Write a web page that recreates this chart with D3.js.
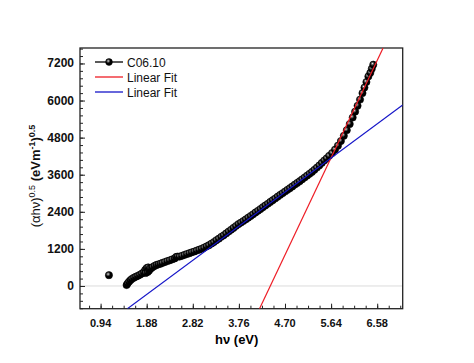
<!DOCTYPE html>
<html>
<head>
<meta charset="utf-8">
<script src="https://cdn.jsdelivr.net/npm/d3@7"></script>
<style>
  body { margin: 0; background: #fff; }
  svg text { font-family: "Liberation Sans", Arial, sans-serif; }
  .tickLabel { font-weight: bold; fill: #111; }
  .legendText { font-size: 12px; fill: #111; }
</style>
</head>
<body>
<div id="chart"></div>
<script>
"use strict";

// measured series (hv in eV, (alpha hv)^0.5)
let hv = [1.11, 1.47, 1.49, 1.52, 1.55, 1.58, 1.62, 1.66, 1.70, 1.74, 1.78, 1.82, 1.85, 1.86, 1.88,
  1.90, 1.91, 1.93, 1.94, 1.97, 2.00, 2.04, 2.08, 2.12, 2.16, 2.20, 2.25, 2.30, 2.35, 2.40,
  2.45, 2.48, 2.51, 2.55, 2.60, 2.65, 2.70, 2.75, 2.80, 2.85, 2.90, 2.95, 3.00, 3.05, 3.10,
  3.15, 3.20, 3.25, 3.30, 3.35, 3.40, 3.45, 3.50, 3.55, 3.60, 3.65, 3.70, 3.75, 3.80, 3.85,
  3.90, 3.95, 4.00, 4.05, 4.10, 4.15, 4.20, 4.25, 4.30, 4.35, 4.40, 4.45, 4.50, 4.55, 4.60,
  4.65, 4.70, 4.75, 4.80, 4.85, 4.90, 4.95, 5.00, 5.05, 5.10, 5.15, 5.20, 5.25, 5.30, 5.35,
  5.40, 5.45, 5.50, 5.55, 5.60, 5.66, 5.72, 5.78, 5.84, 5.90, 5.96, 6.02, 6.08, 6.13, 6.18,
  6.23, 6.28, 6.32, 6.36, 6.40, 6.44, 6.47, 6.50];
let ahv = [350, 30, 80, 140, 190, 230, 270, 300, 330, 360, 400, 450, 520, 420, 580,
  450, 600, 500, 560, 570, 610, 650, 680, 700, 720, 745, 775, 805, 830, 860,
  890, 940, 950, 950, 975, 1005, 1035, 1060, 1090, 1115, 1145, 1175, 1205, 1240, 1280,
  1320, 1370, 1420, 1480, 1530, 1590, 1640, 1700, 1760, 1820, 1880, 1940, 2000, 2050, 2100,
  2155, 2210, 2265, 2320, 2380, 2435, 2490, 2550, 2605, 2660, 2720, 2775, 2830, 2890, 2945,
  3000, 3055, 3110, 3165, 3220, 3280, 3335, 3390, 3450, 3510, 3570, 3630, 3690, 3760, 3830,
  3900, 3980, 4060, 4130, 4210, 4300, 4410, 4540, 4690, 4860, 5040, 5240, 5450, 5640, 5830,
  6030, 6240, 6420, 6600, 6780, 6900, 7030, 7160];

// linear fits, as two end points each [hv, value]
let redFit = [[4.180, -735], [6.700, 7700]];
let blueFit = [[1.487, -735], [7.100, 5855]];

let xTicks = [0.94, 1.88, 2.82, 3.76, 4.70, 5.64, 6.58];
let yTicks = [0, 1200, 2400, 3600, 4800, 6000, 7200];

let legendNames = ["C06.10", "Linear Fit", "Linear Fit"];
let legendColors = ["#000", "#ee1c25", "#1515c8"];

let width = 474;
let height = 363;

let plot = { left: 80, top: 48, right: 402.7, bottom: 308.7 };

let svg = d3.select("#chart").append("svg")
  .attr("width", width)
  .attr("height", height)
  .attr("viewBox", [0, 0, width, height].join(" "));

let defs = svg.append("defs");

// shaded ball marker
let grad = defs.append("radialGradient")
  .attr("id", "ball")
  .attr("cx", "38%")
  .attr("cy", "35%")
  .attr("r", "55%");
grad.append("stop").attr("offset", "0%").attr("stop-color", "#fff");
grad.append("stop").attr("offset", "22%").attr("stop-color", "#777");
grad.append("stop").attr("offset", "60%").attr("stop-color", "#000");
grad.append("stop").attr("offset", "100%").attr("stop-color", "#000");

defs.append("clipPath")
  .attr("id", "plotClip")
  .append("rect")
  .attr("x", plot.left)
  .attr("y", plot.top)
  .attr("width", plot.right - plot.left)
  .attr("height", plot.bottom - plot.top);

let x = d3.scaleLinear().domain([0.52, 7.1]).range([plot.left, plot.right]);
let y = d3.scaleLinear().domain([-735, 7700]).range([plot.bottom, plot.top]);

// zero reference line
svg.append("line")
  .attr("x1", plot.left)
  .attr("x2", plot.right)
  .attr("y1", y(0))
  .attr("y2", y(0))
  .attr("stroke", "#dcdcdc")
  .attr("stroke-width", 1);

// axes with inward ticks
let xMinor = d3.range(0.94 - 0.235, 7.1, 0.235).filter(v => v > 0.52);
let yMinor = d3.range(-720, 7700, 240);

let xAxisMinor = d3.axisTop(x).tickValues(xMinor).tickSize(3).tickFormat("");
let xAxisMajor = d3.axisTop(x).tickValues(xTicks).tickSize(5).tickFormat("");
let yAxisMinor = d3.axisRight(y).tickValues(yMinor).tickSize(3).tickFormat("");
let yAxisMajor = d3.axisRight(y).tickValues(yTicks).tickSize(5).tickFormat("");

[xAxisMinor, xAxisMajor].forEach(function(ax) {
  svg.append("g")
    .attr("transform", `translate(0, ${plot.bottom})`)
    .call(ax)
    .call(g => g.select(".domain").remove())
    .selectAll("line").attr("stroke", "#222").attr("stroke-width", 1);
});

[yAxisMinor, yAxisMajor].forEach(function(ax) {
  svg.append("g")
    .attr("transform", `translate(${plot.left}, 0)`)
    .call(ax)
    .call(g => g.select(".domain").remove())
    .selectAll("line").attr("stroke", "#222").attr("stroke-width", 1);
});

svg.selectAll(".xLabel")
  .data(xTicks)
  .enter().append("text")
  .attr("class", "tickLabel")
  .attr("x", d => x(d))
  .attr("y", 327)
  .style("font-size", "11px")
  .style("text-anchor", "middle")
  .text(d => d.toFixed(2));

svg.selectAll(".yLabel")
  .data(yTicks)
  .enter().append("text")
  .attr("class", "tickLabel")
  .attr("x", 74)
  .attr("y", d => y(d) + 4)
  .style("font-size", "12px")
  .style("text-anchor", "end")
  .text(d => d);

// frame
svg.append("rect")
  .attr("x", plot.left)
  .attr("y", plot.top)
  .attr("width", plot.right - plot.left)
  .attr("height", plot.bottom - plot.top)
  .attr("fill", "none")
  .attr("stroke", "#222")
  .attr("stroke-width", 1.3);

// data points
let points = hv.map((v, i) => [v, ahv[i]]);

svg.append("g")
  .selectAll("circle")
  .data(points)
  .enter().append("circle")
  .attr("cx", d => x(d[0]))
  .attr("cy", d => y(d[1]))
  .attr("r", 3.6)
  .attr("fill", "url(#ball)")
  .attr("stroke", "#000")
  .attr("stroke-width", 0.6);

// fit lines
let line = d3.line().x(d => x(d[0])).y(d => y(d[1]));

let fitGroup = svg.append("g").attr("clip-path", "url(#plotClip)");

fitGroup.append("path")
  .attr("d", line(redFit))
  .attr("fill", "none")
  .attr("stroke", legendColors[1])
  .attr("stroke-width", 1.2);

fitGroup.append("path")
  .attr("d", line(blueFit))
  .attr("fill", "none")
  .attr("stroke", legendColors[2])
  .attr("stroke-width", 1.2);

// legend
let legend = svg.append("g");

legendNames.forEach(function(name, i) {
  let ly = 62 + i * 15;

  legend.append("line")
    .attr("x1", 95)
    .attr("x2", 123)
    .attr("y1", ly)
    .attr("y2", ly)
    .attr("stroke", legendColors[i])
    .attr("stroke-width", 1.3);

  if (i === 0) {
    legend.append("circle")
      .attr("cx", 109)
      .attr("cy", ly)
      .attr("r", 3.4)
      .attr("fill", "url(#ball)")
      .attr("stroke", "#000")
      .attr("stroke-width", 0.5);
  }

  legend.append("text")
    .attr("class", "legendText")
    .attr("x", 127)
    .attr("y", ly + 4.5)
    .text(name);
});

// axis titles
svg.append("text")
  .attr("x", 236.7)
  .attr("y", 344)
  .style("font-size", "13px")
  .style("font-weight", "bold")
  .style("text-anchor", "middle")
  .text("h\u03bd (eV)");

let yTitle = svg.append("text")
  .attr("transform", "translate(40, 176) rotate(-90)")
  .style("text-anchor", "middle")
  .style("fill", "#111");

yTitle.append("tspan").style("font-size", "13px").text("(\u03b1h\u03bd)");
yTitle.append("tspan").style("font-size", "9px").attr("dy", -5).text("0.5");
yTitle.append("tspan").style("font-size", "13px").style("font-weight", "bold").attr("dy", 5).text(" (eVm");
yTitle.append("tspan").style("font-size", "9px").style("font-weight", "bold").attr("dy", -5).text("-1");
yTitle.append("tspan").style("font-size", "13px").style("font-weight", "bold").attr("dy", 5).text(")");
yTitle.append("tspan").style("font-size", "9px").style("font-weight", "bold").attr("dy", -5).text("0.5");
</script>
</body>
</html>
